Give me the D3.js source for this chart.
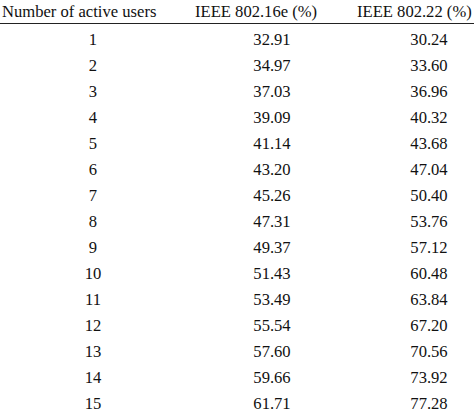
<!DOCTYPE html>
<html><head><meta charset="utf-8">
<script src="https://cdn.jsdelivr.net/npm/d3@7/dist/d3.min.js"></script>
<style>body{margin:0;background:#fff}</style></head>
<body><svg id="c" width="474" height="415"></svg>
<script>
const headers = ["Number of active users", "IEEE 802.16e (%)", "IEEE 802.22 (%)"];
const users = [1,2,3,4,5,6,7,8,9,10,11,12,13,14,15];
const ieee16e = [32.91,34.97,37.03,39.09,41.14,43.20,45.26,47.31,49.37,51.43,53.49,55.54,57.60,59.66,61.71];
const ieee22 = [30.24,33.60,36.96,40.32,43.68,47.04,50.40,53.76,57.12,60.48,63.84,67.20,70.56,73.92,77.28];

const svg = d3.select("#c");
const font = "'Liberation Serif','Times New Roman',serif";
const fs = 16.6;
const y = d3.scaleBand().domain(users).range([26, 417]);
const colX = [93, 272, 429];
const headX = [2, 195, 357];

svg.append("g").selectAll("text").data(headers).join("text")
  .attr("x",(d,i)=>headX[i]).attr("y",17)
  .attr("font-family",font).attr("font-size",fs).attr("fill","#111").text(d=>d);
svg.append("line").attr("x1",0).attr("x2",474).attr("y1",23.5).attr("y2",23.5)
  .attr("stroke","#222").attr("stroke-width",1.2);

const rows = users.map((u,i)=>[String(u), ieee16e[i].toFixed(2), ieee22[i].toFixed(2)]);
const g = svg.append("g");
rows.forEach((r,i)=>{
  g.selectAll(null).data(r).join("text")
    .attr("x",(d,j)=>colX[j]).attr("y",y(users[i])+y.bandwidth()/2+5.5)
    .attr("text-anchor","middle").attr("font-family",font).attr("font-size",fs)
    .attr("fill","#111").text(d=>d);
});
</script></body></html>
